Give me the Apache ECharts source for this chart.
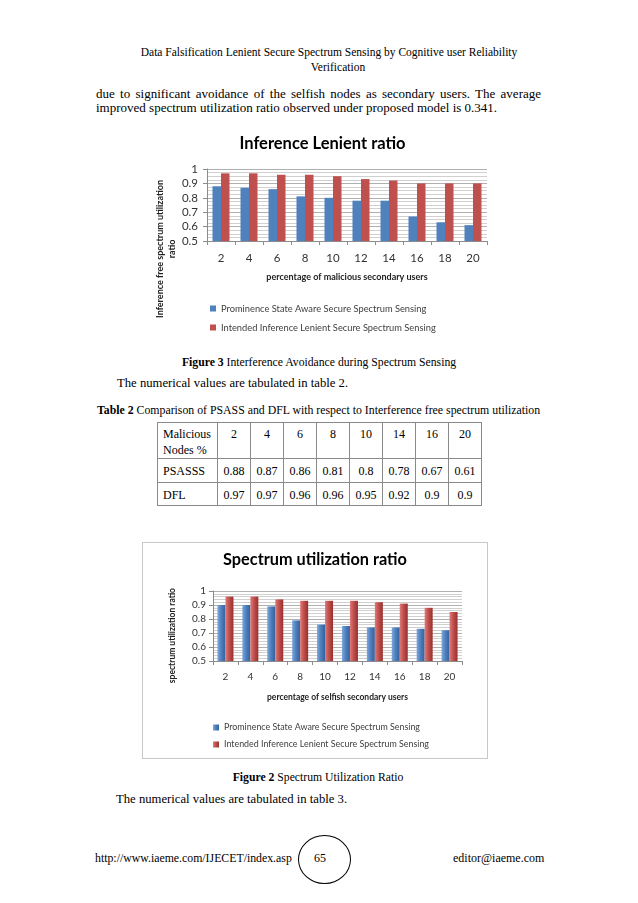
<!DOCTYPE html>
<html><head><meta charset="utf-8">
<script src="https://cdn.jsdelivr.net/npm/echarts@6/dist/echarts.min.js"></script>
<style>
body{margin:0;background:#fff;}
#page{position:relative;width:638px;height:903px;background:#fff;font-family:"Liberation Serif","Times New Roman",serif;color:#000;overflow:hidden;}
.t{position:absolute;white-space:nowrap;line-height:14px;}
.c{text-align:center;}
#tbl{position:absolute;left:157px;top:422px;border-collapse:collapse;font-size:12px;}
#tbl td{border:1px solid #8a8a8a;padding:0;text-align:center;vertical-align:top;}
#tbl td.f{text-align:left;padding-left:5px;}
#chart1{position:absolute;left:150px;top:128px;width:345px;height:212px;}
#chart2{position:absolute;left:142px;top:542px;width:344px;height:215px;border:1px solid #c8c8c8;}
#circ{position:absolute;left:298px;top:835px;width:51px;height:47px;border:1.3px solid #000;border-radius:50%;}
</style></head><body>
<div id="page">
  <div class="t c" style="left:29px;width:600px;top:45px;font-size:11.5px;">Data Falsification Lenient Secure Spectrum Sensing by Cognitive user Reliability</div>
  <div class="t c" style="left:38px;width:600px;top:60px;font-size:11.5px;">Verification</div>
  <div class="t" style="left:96px;width:445px;top:87px;font-size:13px;text-align:justify;text-align-last:justify;white-space:normal;">due to significant avoidance of the selfish nodes as secondary users. The average</div>
  <div class="t" style="left:96px;top:101px;font-size:13px;">improved spectrum utilization ratio observed under proposed model is 0.341.</div>

  <div id="chart1"></div>

  <div class="t c" style="left:19px;width:600px;top:356px;font-size:11.7px;"><b>Figure 3</b> Interference Avoidance during Spectrum Sensing</div>
  <div class="t" style="left:117px;top:376px;font-size:12.7px;">The numerical values are tabulated in table 2.</div>
  <div class="t" style="left:97px;top:403px;font-size:11.8px;"><b>Table 2</b> Comparison of PSASS and DFL with respect to Interference free spectrum utilization</div>
  <table id="tbl"></table>

  <div id="chart2"></div>

  <div class="t c" style="left:18px;width:600px;top:771px;font-size:11.7px;"><b>Figure 2</b> Spectrum Utilization Ratio</div>
  <div class="t" style="left:116px;top:792px;font-size:12.7px;">The numerical values are tabulated in table 3.</div>

  <div class="t" style="left:95px;top:851px;font-size:11.8px;">http://www.iaeme.com/IJECET/index.asp</div>
  <div id="circ"></div>
  <div class="t c" style="left:300px;width:40px;top:851px;font-size:12px;">65</div>
  <div class="t" style="left:453px;top:851px;font-size:12px;">editor@iaeme.com</div>
</div>
<script>
// ---- data ----
var categories = ['2','4','6','8','10','12','14','16','18','20'];
var fig3Psass = [0.88,0.87,0.86,0.81,0.80,0.78,0.78,0.67,0.63,0.61];
var fig3Dfl   = [0.97,0.97,0.96,0.96,0.95,0.93,0.92,0.90,0.90,0.90];
var fig2Psass = [0.90,0.90,0.89,0.79,0.76,0.75,0.74,0.74,0.73,0.72];
var fig2Dfl   = [0.96,0.96,0.94,0.93,0.93,0.93,0.92,0.91,0.88,0.85];
var seriesNames = ['Prominence State Aware Secure Spectrum Sensing','Intended Inference Lenient Secure Spectrum Sensing'];
var tableHeader = ['2','4','6','8','10','14','16','20'];
var tablePsasss = ['0.88','0.87','0.86','0.81','0.8','0.78','0.67','0.61'];
var tableDfl    = ['0.97','0.97','0.96','0.96','0.95','0.92','0.9','0.9'];
var yTicks = ['0.5','0.6','0.7','0.8','0.9','1'];

// ---- table ----
(function(){
  var tbl = document.getElementById('tbl');
  function row(first, vals, h, padTop){
    var tr = document.createElement('tr');
    tr.style.height = h + 'px';
    var td = document.createElement('td'); td.className='f'; td.innerHTML = first; td.style.width='54px'; td.style.paddingTop=padTop+'px';
    tr.appendChild(td);
    vals.forEach(function(v){ var c=document.createElement('td'); c.textContent=v; c.style.width='32px'; c.style.paddingTop=padTop+'px'; tr.appendChild(c); });
    tbl.appendChild(tr);
  }
  row('Malicious<br>Nodes %', tableHeader, 36, 3);
  row('PSASSS', tablePsasss, 24, 4);
  row('DFL', tableDfl, 23, 4);
  tbl.querySelectorAll('td').forEach(function(td){ td.style.lineHeight='16px'; });
})();

var BLUE = '#4F81BD', RED = '#C0504D';
var FONT = 'Lato, "Open Sans", sans-serif';

function baseOption(cfg){
  return {
    animation:false,
    title:{text:cfg.title,left:'center',top:cfg.titleTop,textStyle:{fontFamily:FONT,fontWeight:'bold',fontSize:cfg.titleSize,color:'#000'},
      padding:cfg.titlePad},
    legend:{orient:'vertical',left:cfg.legLeft,top:cfg.legTop,itemWidth:6,itemHeight:6,itemGap:cfg.legGap,icon:'rect',padding:0,
      textStyle:{fontFamily:FONT,fontSize:cfg.legFont,color:'#404040'},data:seriesNames},
    grid:{left:cfg.gl,right:cfg.gr,top:cfg.gt,height:cfg.gh},
    xAxis:{type:'category',data:categories,name:cfg.xName,nameLocation:'middle',nameGap:cfg.xNameGap,
      nameTextStyle:{fontFamily:FONT,fontWeight:'bold',fontSize:cfg.nameSize,color:'#222'},
      axisLine:{lineStyle:{color:'#8c8c8c'}},axisTick:{show:true,length:4,lineStyle:{color:'#8c8c8c'}},
      axisLabel:{fontFamily:FONT,fontSize:cfg.labSize,color:'#333',margin:cfg.xLabMargin}},
    yAxis:{type:'value',min:0.5,max:1,interval:0.1,
      axisLine:{show:true,lineStyle:{color:'#8c8c8c'}},axisTick:{show:true,length:4,lineStyle:{color:'#8c8c8c'}},
      axisLabel:{fontFamily:FONT,fontSize:cfg.labSize,color:'#333',margin:cfg.yLabMargin,
        formatter:function(v){var s=String(Math.round(v*10)/10); return yTicks.indexOf(s)>=0?s:'';}},
      splitLine:{lineStyle:{color:'#b0b0b0',width:1}},
      minorTick:{show:false,splitNumber:cfg.minor},
      minorSplitLine:{show:true,lineStyle:{color:'#d0d0d0',width:1}}},
    graphic:[{type:'text',left:cfg.ynX,top:cfg.ynY,rotation:Math.PI/2,
      style:{text:cfg.yName,fontFamily:FONT,fontWeight:'bold',fontSize:cfg.nameSize,fill:'#222',textAlign:'center',textVerticalAlign:'middle',lineHeight:12}}],
    series:[
      {name:seriesNames[0],type:'bar',data:cfg.d1,barWidth:cfg.bw,barGap:'0%',itemStyle:{color:cfg.c1}},
      {name:seriesNames[1],type:'bar',data:cfg.d2,barWidth:cfg.bw,barGap:'0%',itemStyle:{color:cfg.c2}}
    ]
  };
}

var c1 = echarts.init(document.getElementById('chart1'));
c1.setOption(baseOption({
  title:'Inference Lenient ratio',titleTop:7,titleSize:16.5,titlePad:[0,0,0,0],
  legLeft:60,legTop:176,legGap:10,legFont:9.3,
  gl:57,gr:8,gt:41,gh:72,
  xName:'percentage of malicious secondary users',xNameGap:32,nameSize:9,labSize:11.5,xLabMargin:11,yLabMargin:9,
  minor:4,yName:'Inference free spectrum utilization\nratio',ynX:4,ynY:52,
  d1:fig3Psass,d2:fig3Dfl,bw:8.5,c1:BLUE,c2:RED
}));

function grad(base, light, dark){
  return new echarts.graphic.LinearGradient(0,0,1,0,[{offset:0,color:light},{offset:0.45,color:base},{offset:1,color:dark}]);
}
var c2 = echarts.init(document.getElementById('chart2'));
c2.setOption(baseOption({
  title:'Spectrum utilization ratio',titleTop:9,titleSize:16.3,titlePad:[0,0,0,12],
  legLeft:70,legTop:180,legGap:8,legFont:8.9,
  gl:70,gr:25,gt:48,gh:70,
  xName:'percentage of selfish secondary users',xNameGap:32,nameSize:8.5,labSize:10,xLabMargin:11,yLabMargin:7,
  minor:5,yName:'spectrum utilization ratio',ynX:23,ynY:45,
  d1:fig2Psass,d2:fig2Dfl,bw:8,c1:grad(BLUE,'#7da6de','#33619c'),c2:grad(RED,'#e07a77','#97302d')
}));
</script>
</body></html>
